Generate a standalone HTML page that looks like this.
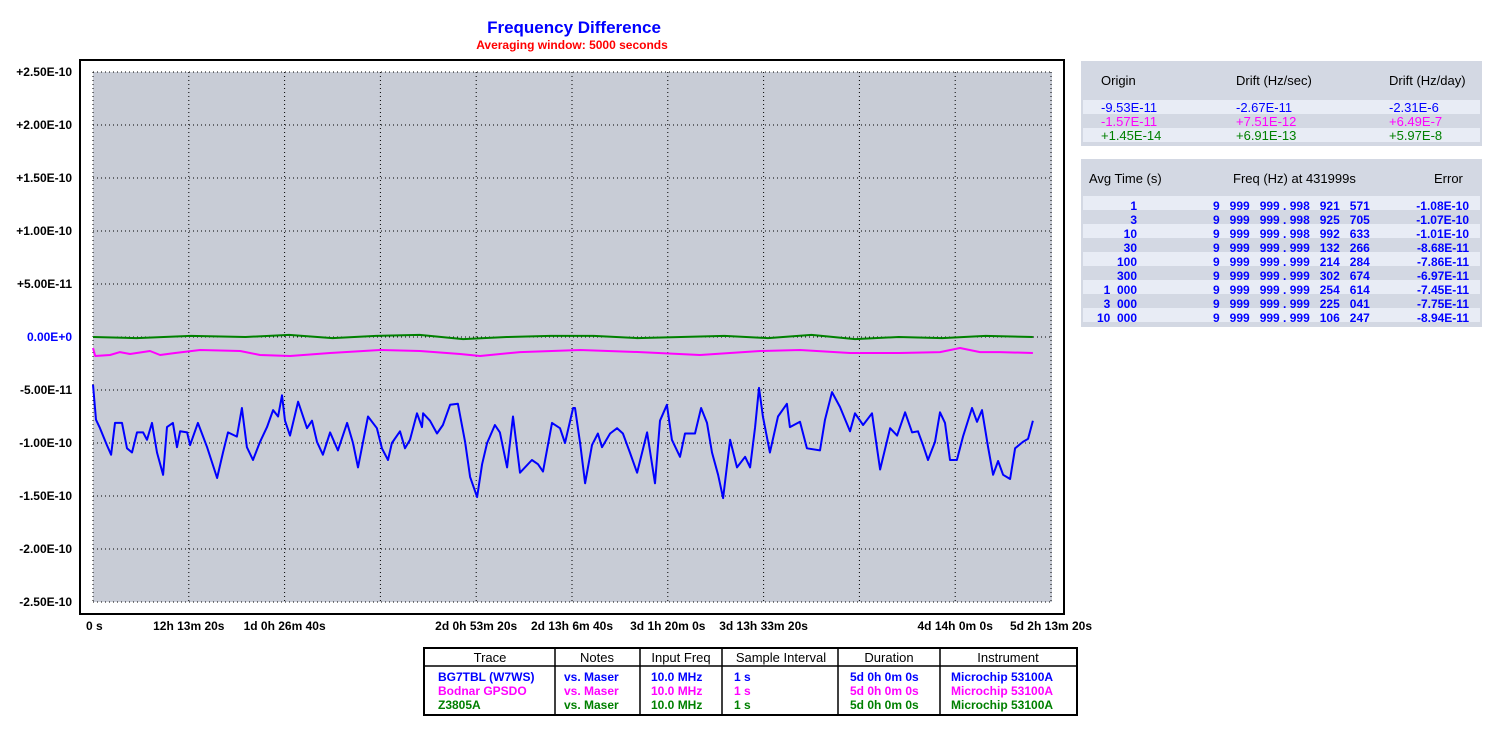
<!DOCTYPE html>
<html><head><meta charset="utf-8"><style>
body{margin:0;background:#fff;}
svg{display:block;font-family:"Liberation Sans",Arial,sans-serif;}
</style></head><body>
<svg id="chart" width="1500" height="749" viewBox="0 0 1500 749">
<text x="574" y="33" text-anchor="middle" font-size="17" font-weight="bold" fill="#0000ff">Frequency Difference</text>
<text x="572" y="49" text-anchor="middle" font-size="12" font-weight="bold" fill="#ff0000">Averaging window: 5000 seconds</text>
<rect x="80" y="60" width="984" height="554" fill="#fff" stroke="#000" stroke-width="2"/>
<rect x="93" y="72" width="959" height="530" fill="#c8ccd6"/>
<g id="grid"></g>
<g id="yticks"></g>
<g id="xticks"></g>
<g id="series"></g>

<g font-size="13">
<rect x="1081" y="61" width="401" height="85" fill="#d3d8e3"/>
<rect x="1083" y="100" width="397" height="14" fill="#e8ecf5"/>
<rect x="1083" y="128" width="397" height="14" fill="#e8ecf5"/>
<text x="1101" y="85" fill="#000">Origin</text><text x="1236" y="85" fill="#000">Drift (Hz/sec)</text><text x="1389" y="85" fill="#000">Drift (Hz/day)</text>
<text x="1101" y="112" fill="#0000ff">-9.53E-11</text><text x="1236" y="112" fill="#0000ff">-2.67E-11</text><text x="1389" y="112" fill="#0000ff">-2.31E-6</text>
<text x="1101" y="126" fill="#ff00ff">-1.57E-11</text><text x="1236" y="126" fill="#ff00ff">+7.51E-12</text><text x="1389" y="126" fill="#ff00ff">+6.49E-7</text>
<text x="1101" y="140" fill="#008000">+1.45E-14</text><text x="1236" y="140" fill="#008000">+6.91E-13</text><text x="1389" y="140" fill="#008000">+5.97E-8</text>
</g>
<g id="avgtable" font-size="12">
<rect x="1081" y="159" width="401" height="168" fill="#d3d8e3"/>
<text x="1089" y="183" fill="#000" font-size="13">Avg Time (s)</text><text x="1233" y="183" fill="#000" font-size="13">Freq (Hz) at 431999s</text><text x="1434" y="183" fill="#000" font-size="13">Error</text>
</g>

<g font-size="12">
<rect x="424" y="648" width="653" height="67" fill="#fff" stroke="#000" stroke-width="2"/>
<line x1="424" y1="666" x2="1077" y2="666" stroke="#000" stroke-width="1.5"/>
<g stroke="#000" stroke-width="1.5"><line x1="555" y1="648" x2="555" y2="715"/><line x1="640" y1="648" x2="640" y2="715"/><line x1="722" y1="648" x2="722" y2="715"/><line x1="838" y1="648" x2="838" y2="715"/><line x1="940" y1="648" x2="940" y2="715"/></g>
<g text-anchor="middle" fill="#000" font-size="13"><text x="490" y="662">Trace</text><text x="597" y="662">Notes</text><text x="681" y="662">Input Freq</text><text x="781" y="662">Sample Interval</text><text x="889" y="662">Duration</text><text x="1008" y="662">Instrument</text></g>
<g fill="#0000ff" font-weight="bold"><text x="438" y="681">BG7TBL (W7WS)</text><text x="564" y="681">vs. Maser</text><text x="651" y="681">10.0 MHz</text><text x="734" y="681">1 s</text><text x="850" y="681">5d 0h 0m 0s</text><text x="951" y="681">Microchip 53100A</text></g>
<g fill="#ff00ff" font-weight="bold"><text x="438" y="695">Bodnar GPSDO</text><text x="564" y="695">vs. Maser</text><text x="651" y="695">10.0 MHz</text><text x="734" y="695">1 s</text><text x="850" y="695">5d 0h 0m 0s</text><text x="951" y="695">Microchip 53100A</text></g>
<g fill="#008000" font-weight="bold"><text x="438" y="709">Z3805A</text><text x="564" y="709">vs. Maser</text><text x="651" y="709">10.0 MHz</text><text x="734" y="709">1 s</text><text x="850" y="709">5d 0h 0m 0s</text><text x="951" y="709">Microchip 53100A</text></g>
</g>
</svg>
<script>
// time in kiloseconds, values in units of 1E-11
const blueT=[0,1.4,3.2,6.4,8.3,10.1,13.3,15.6,17.9,20.2,23.0,24.8,27.1,29.4,32.2,34.0,36.7,38.6,40.0,43.2,44.6,48.2,52.4,57.0,59.7,62.0,66.1,68.4,70.7,73.5,76.7,79.9,82.7,85.0,86.8,88.2,90.5,94.2,98.3,100.6,102.9,105.6,108.9,112.5,116.7,119.4,121.7,126.3,130.4,132.7,135.5,137.3,141.0,143.3,145.6,148.8,151.1,151.6,154.8,158.0,160.7,164.0,167.6,170.9,173.2,176.4,178.7,181.0,184.6,186.9,190.2,192.9,196.1,201.6,204.4,206.7,210.8,214.5,216.8,220.5,221.4,223.7,226.0,229.2,231.9,233.8,237.5,240.7,243.4,246.6,249.9,254.5,258.1,260.4,263.6,265.9,269.6,271.9,276.5,279.3,282.0,284.3,287.1,289.4,292.6,295.8,299.5,301.8,304.1,305.9,307.7,310.9,314.6,318.7,320.1,324.7,327.9,333.9,336.2,339.4,343.1,347.7,350.0,353.7,357.8,361.5,366.1,369.3,373.0,376.2,378.9,381.2,383.5,386.7,389.0,391.3,393.6,396.8,399.6,403.7,406.0,408.3,411.1,413.4,415.7,418.0,421.2,423.5,427.1,429.5,431.7];
const blueV=[-4.5,-7.8,-8.6,-10.2,-11.1,-8.1,-8.1,-10.5,-10.9,-9.0,-9.0,-9.7,-8.1,-10.9,-13.0,-8.5,-8.1,-10.4,-8.9,-9.0,-10.2,-8.1,-10.4,-13.3,-10.9,-9.0,-9.4,-6.7,-10.4,-11.6,-9.9,-8.5,-6.9,-7.5,-5.5,-7.9,-9.3,-6.1,-8.6,-7.9,-9.9,-11.1,-9.0,-10.7,-8.1,-10.0,-12.3,-7.5,-8.6,-10.5,-11.6,-10.0,-8.9,-10.5,-9.7,-7.2,-8.5,-7.2,-7.9,-9.1,-8.3,-6.4,-6.3,-9.9,-13.2,-15.1,-12.0,-10.0,-8.3,-9.0,-12.3,-7.5,-12.8,-11.6,-12.0,-12.7,-8.1,-8.6,-10.0,-6.7,-6.7,-10.0,-13.8,-10.2,-9.1,-10.4,-9.1,-8.6,-9.1,-10.9,-12.8,-9.0,-13.8,-7.9,-6.4,-9.7,-11.3,-9.1,-9.1,-6.7,-8.1,-10.9,-13.0,-15.2,-9.7,-12.3,-11.3,-12.3,-8.5,-4.8,-7.5,-10.9,-7.5,-6.3,-8.5,-8.0,-10.5,-10.7,-7.8,-5.2,-6.6,-8.9,-7.2,-8.3,-7.2,-12.5,-8.6,-9.3,-7.1,-9.0,-8.9,-10.2,-11.6,-9.9,-7.1,-8.1,-11.6,-11.6,-9.4,-6.7,-8.0,-6.9,-10.4,-13.0,-11.7,-13.0,-13.4,-10.5,-9.9,-9.6,-7.9];
const magT=[0,1,7.8,12.4,17,26.2,30.8,37.7,49.2,67.6,76.7,90.5,108.9,131.8,150.2,168.6,177.8,196.1,223.7,251.3,278.8,306.4,324.7,347.7,370.6,389,398.2,407.4,416.5,431.7];
const magV=[-1.04,-1.79,-1.70,-1.42,-1.60,-1.32,-1.70,-1.51,-1.23,-1.32,-1.70,-1.79,-1.51,-1.23,-1.32,-1.60,-1.79,-1.42,-1.23,-1.42,-1.70,-1.32,-1.23,-1.51,-1.51,-1.42,-1.04,-1.42,-1.42,-1.51];
const grnT=[0,20,45,70,90,110,130,150,170,190,210,230,250,270,290,310,330,350,370,390,410,431.7];
const grnV=[0.0,-0.1,0.1,0.0,0.2,-0.1,0.1,0.2,-0.2,0.0,0.1,0.1,-0.1,0.0,0.1,-0.1,0.2,-0.2,0.0,-0.1,0.1,0.0];
const yTickVals=[25,20,15,10,5,0,-5,-10,-15,-20,-25];
const yTickLabels=["+2.50E-10","+2.00E-10","+1.50E-10","+1.00E-10","+5.00E-11","0.00E+0","-5.00E-11","-1.00E-10","-1.50E-10","-2.00E-10","-2.50E-10"];
const xGridT=[0,44,88,132,176,220,264,308,352,396,440];
const xTickT=[0,44,88,176,220,264,308,396,440];
const xTickLabels=["0 s","12h 13m 20s","1d 0h 26m 40s","2d 0h 53m 20s","2d 13h 6m 40s","3d 1h 20m 0s","3d 13h 33m 20s","4d 14h 0m 0s","5d 2h 13m 20s"];
const avgLabels=["1","3","10","30","100","300","1  000","3  000","10  000"];
const freqLabels=["9   999   999 . 998   921   571","9   999   999 . 998   925   705","9   999   999 . 998   992   633","9   999   999 . 999   132   266","9   999   999 . 999   214   284","9   999   999 . 999   302   674","9   999   999 . 999   254   614","9   999   999 . 999   225   041","9   999   999 . 999   106   247"];
const errLabels=["-1.08E-10","-1.07E-10","-1.01E-10","-8.68E-11","-7.86E-11","-6.97E-11","-7.45E-11","-7.75E-11","-8.94E-11"];

const NS="http://www.w3.org/2000/svg";
const X0=93,X1=1051,Y0=337,PPU=10.6;
function xs(t){return X0+t/440*(X1-X0);}
function ys(v){return Y0-v*PPU;}
function mk(tag,attrs,parent){const e=document.createElementNS(NS,tag);for(const k in attrs)e.setAttribute(k,attrs[k]);parent.appendChild(e);return e;}
const grid=document.getElementById('grid');
yTickVals.forEach(v=>{const l=mk('line',{x1:X0,x2:1052,y1:ys(v),y2:ys(v),stroke:'#000','stroke-width':1,'stroke-dasharray':'1,3'},grid);

});
xGridT.forEach(t=>{const l=mk('line',{x1:xs(t),x2:xs(t),y1:72,y2:602,stroke:'#000','stroke-width':1,'stroke-dasharray':'1,3'},grid);

});
const yt=document.getElementById('yticks');
yTickVals.forEach((v,i)=>{const e=mk('text',{x:72,y:ys(v)+4,'text-anchor':'end','font-size':12,'font-weight':'bold',fill:v===0?'#0000ff':'#000'},yt);e.textContent=yTickLabels[i];

});
const xt=document.getElementById('xticks');
xTickT.forEach((t,i)=>{const e=mk('text',{x:i===0?86:xs(t),y:630,'text-anchor':i===0?'start':'middle','font-size':12,'font-weight':'bold',fill:'#000'},xt);e.textContent=xTickLabels[i];

});
const ser=document.getElementById('series');
function line(T,V,color,name){const d=T.map((t,i)=>(i?'L':'M')+xs(t).toFixed(1)+','+ys(V[i]).toFixed(1)).join(' ');
const p=mk('path',{d:d,fill:'none',stroke:color,'stroke-width':2,'stroke-linejoin':'round'},ser);

}
line(grnT,grnV,'#008000','z3805a-line');
line(magT,magV,'#ff00ff','bodnar-gpsdo-line');
line(blueT,blueV,'#0000ff','bg7tbl-line');
const at=document.getElementById('avgtable');
avgLabels.forEach((a,i)=>{const y=206+i*14;
if(i%2===0){const r=mk('rect',{x:1083,y:y-10,width:397,height:14,fill:'#e8ecf5'},at);
}
const t1=mk('text',{x:1137,y:y+4,'text-anchor':'end','font-weight':'bold',fill:'#0000ff'},at);t1.style.whiteSpace='pre';t1.textContent=a;


const t2=mk('text',{x:1213,y:y+4,'font-weight':'bold',fill:'#0000ff'},at);t2.style.whiteSpace='pre';t2.textContent=freqLabels[i];


const t3=mk('text',{x:1469,y:y+4,'text-anchor':'end','font-weight':'bold',fill:'#0000ff'},at);t3.textContent=errLabels[i];

});
</script>
</body></html>
